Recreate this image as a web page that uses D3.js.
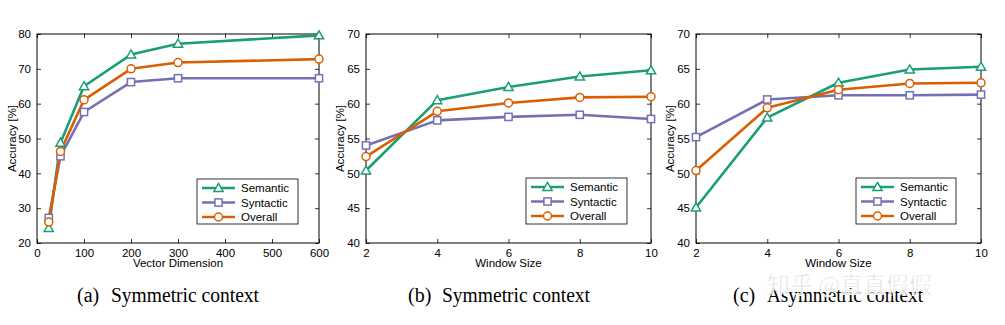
<!DOCTYPE html>
<html><head><meta charset="utf-8">
<script src="https://cdn.jsdelivr.net/npm/d3@7"></script>
<style>
body{margin:0;background:#fff;}
svg{display:block;}
text{font-family:"Liberation Sans",Arial,sans-serif;}
</style></head>
<body>
<svg id="c" width="1005" height="325"></svg>
<script>
// ---- data ----
const seriesNames = ["Semantic", "Syntactic", "Overall"];
const dimX = [25, 50, 100, 200, 300, 600];
const dimSemantic = [24.3, 48.8, 65.0, 74.1, 77.2, 79.6];
const dimSyntactic = [27.2, 44.9, 57.6, 66.2, 67.3, 67.3];
const dimOverall = [26.0, 46.3, 61.1, 70.0, 71.8, 72.8];

const winX = [2, 4, 6, 8, 10];
const symSemantic = [50.4, 60.5, 62.4, 63.9, 64.8];
const symSyntactic = [54.0, 57.6, 58.1, 58.4, 57.8];
const symOverall = [52.4, 58.9, 60.1, 60.9, 61.0];

const asymSemantic = [45.1, 58.0, 63.0, 64.9, 65.3];
const asymSyntactic = [55.2, 60.6, 61.2, 61.2, 61.3];
const asymOverall = [50.4, 59.4, 62.0, 62.9, 63.0];

const dimTicks = [0, 100, 200, 300, 400, 500, 600];
const winTicks = [2, 4, 6, 8, 10];
const accTicksA = [20, 30, 40, 50, 60, 70, 80];
const accTicksB = [40, 45, 50, 55, 60, 65, 70];

const xLabels = ["Vector Dimension", "Window Size", "Window Size"];
const yLabel = "Accuracy [%]";
const captionTags = ["(a)", "(b)", "(c)"];
const captionTexts = ["Symmetric context", "Symmetric context", "Asymmetric context"];
const watermark = "知乎 @直直假假";

// ---- styles ----
const colors = ["#1b9e77", "#7570b3", "#d95f02"];
const markers = ["triangle", "square", "circle"];

const panels = [
  {box:[37,34,319,243], xd:[0,600], yd:[20,80], xt:dimTicks, yt:accTicksA, x:dimX,
   ys:[dimSemantic, dimSyntactic, dimOverall], leg:[197,179,298,224], ylx:16, cap:[77,259]},
  {box:[366,34,651,243], xd:[2,10], yd:[40,70], xt:winTicks, yt:accTicksB, x:winX,
   ys:[symSemantic, symSyntactic, symOverall], leg:[526,178,627,224], ylx:344, cap:[408,590]},
  {box:[696,34,981,243], xd:[2,10], yd:[40,70], xt:winTicks, yt:accTicksB, x:winX,
   ys:[asymSemantic, asymSyntactic, asymOverall], leg:[856,178,956,224], ylx:674, cap:[733,923]}
];

const svg = d3.select("#c");

function drawMarker(g, type, cx, cy, color) {
  if (type === "triangle") {
    const s = 4.6;
    g.append("path").attr("d", `M${cx},${cy - s}L${cx + s},${cy + s * 0.75}L${cx - s},${cy + s * 0.75}Z`)
      .attr("fill", "#fff").attr("stroke", color).attr("stroke-width", 1.5);
  } else if (type === "square") {
    const s = 3.6;
    g.append("rect").attr("x", cx - s).attr("y", cy - s).attr("width", 2 * s).attr("height", 2 * s)
      .attr("fill", "#fff").attr("stroke", color).attr("stroke-width", 1.5);
  } else {
    g.append("circle").attr("cx", cx).attr("cy", cy).attr("r", 4)
      .attr("fill", "#fff").attr("stroke", color).attr("stroke-width", 1.5);
  }
}

panels.forEach((p, pi) => {
  const [x0, y0, x1, y1] = p.box;
  const xs = d3.scaleLinear().domain(p.xd).range([x0, x1]);
  const ys = d3.scaleLinear().domain(p.yd).range([y1, y0]);
  const g = svg.append("g");

  // axes with inward ticks
  const ax = [
    d3.axisBottom(xs).tickValues(p.xt).tickSizeInner(-4).tickSizeOuter(0).tickPadding(6),
    d3.axisTop(xs).tickValues(p.xt).tickSizeInner(-4).tickSizeOuter(0).tickFormat(""),
    d3.axisLeft(ys).tickValues(p.yt).tickSizeInner(-4).tickSizeOuter(0).tickPadding(6),
    d3.axisRight(ys).tickValues(p.yt).tickSizeInner(-4).tickSizeOuter(0).tickFormat("")
  ];
  const tr = [`translate(0,${y1})`, `translate(0,${y0})`, `translate(${x0},0)`, `translate(${x1},0)`];
  ax.forEach((a, i) => {
    const ag = g.append("g").attr("transform", tr[i]).call(a);
    ag.select(".domain").remove();
    ag.selectAll("line").attr("stroke", "#000").attr("stroke-width", 0.8);
    ag.selectAll("text").attr("font-size", 11.5).attr("fill", "#000")
      .style("font-family", '"Liberation Sans",Arial,sans-serif');
  });
  g.append("rect").attr("x", x0).attr("y", y0).attr("width", x1 - x0).attr("height", y1 - y0)
    .attr("fill", "none").attr("stroke", "#000").attr("stroke-width", 1);

  // x label
  g.append("text").attr("x", (x0 + x1) / 2).attr("y", y1 + 24).attr("text-anchor", "middle")
    .attr("font-size", 11.5).text(xLabels[pi]);
  // y label
  g.append("text").attr("transform", `translate(${p.ylx},${(y0 + y1) / 2}) rotate(-90)`)
    .attr("text-anchor", "middle").attr("font-size", 11.5).text(yLabel);

  // series
  const line = d3.line().x(d => xs(d[0])).y(d => ys(d[1]));
  p.ys.forEach((vals, si) => {
    const pts = p.x.map((xv, k) => [xv, vals[k]]);
    g.append("path").datum(pts).attr("d", line).attr("fill", "none")
      .attr("stroke", colors[si]).attr("stroke-width", 2.6).attr("stroke-linejoin", "round");
  });
  p.ys.forEach((vals, si) => {
    p.x.forEach((xv, k) => drawMarker(g, markers[si], xs(xv), ys(vals[k]), colors[si]));
  });

  // legend
  const [lx0, ly0, lx1, ly1] = p.leg;
  g.append("rect").attr("x", lx0).attr("y", ly0).attr("width", lx1 - lx0).attr("height", ly1 - ly0)
    .attr("fill", "#fff").attr("stroke", "#000").attr("stroke-width", 0.8);
  seriesNames.forEach((nm, si) => {
    const ly = ly0 + 9 + si * 14.5;
    g.append("line").attr("x1", lx0 + 5).attr("x2", lx0 + 38).attr("y1", ly).attr("y2", ly)
      .attr("stroke", colors[si]).attr("stroke-width", 2.6);
    drawMarker(g, markers[si], lx0 + 21.5, ly, colors[si]);
    g.append("text").attr("x", lx0 + 44).attr("y", ly + 4).attr("font-size", 11.5).text(nm);
  });

  // caption
  const [cx0, cx1] = p.cap;
  const serif = '"Liberation Serif","Times New Roman",serif';
  svg.append("text").attr("x", cx0).attr("y", 302).attr("font-size", 20)
    .style("font-family", serif).text(captionTags[pi]);
  svg.append("text").attr("x", cx0 + 34).attr("y", 302).attr("font-size", 20)
    .attr("textLength", cx1 - cx0 - 34).attr("lengthAdjust", "spacingAndGlyphs")
    .style("font-family", serif).text(captionTexts[pi]);
});

// watermark
svg.append("text").attr("x", 767).attr("y", 293).attr("font-size", 23)
  .style("font-family", '"Noto Sans CJK SC",sans-serif')
  .attr("fill", "#d0d0d0").attr("fill-opacity", 0.85).attr("stroke", "#fff").attr("stroke-width", 0.8)
  .text(watermark);
</script>
</body></html>
